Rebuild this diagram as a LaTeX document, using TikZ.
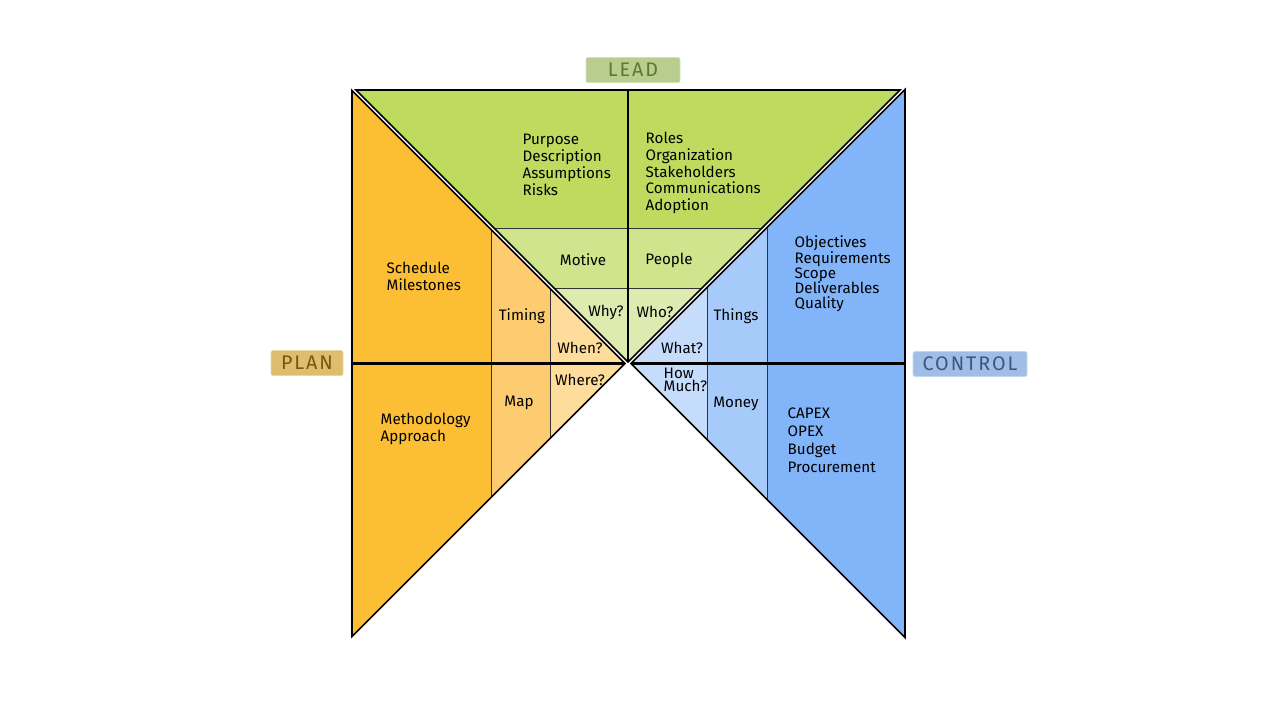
\documentclass[tikz,border=0pt]{standalone}
\usepackage{fontspec}
\setmainfont{Fira Sans}
\newfontfamily\tagfont[LetterSpace=10]{Fira Sans}
\usepackage{tikz}

\definecolor{planA}{HTML}{FBBE35}
\definecolor{planB}{HTML}{FDCC70}
\definecolor{planC}{HTML}{FEDC9C}
\definecolor{leadA}{HTML}{BEDB5F}
\definecolor{leadB}{HTML}{CFE48D}
\definecolor{leadC}{HTML}{DDEBB0}
\definecolor{ctrlA}{HTML}{82B4F9}
\definecolor{ctrlB}{HTML}{A6CAFA}
\definecolor{ctrlC}{HTML}{C5DCFB}
\definecolor{leadTag}{HTML}{B9CD8E}
\definecolor{leadInk}{HTML}{587A30}
\definecolor{planTag}{HTML}{DDBD6E}
\definecolor{planInk}{HTML}{7A5510}
\definecolor{ctrlTag}{HTML}{A0BEE5}
\definecolor{ctrlInk}{HTML}{3B5684}

\begin{document}
\begin{tikzpicture}[
    x=0.025cm, y=-0.025cm,
    edge/.style  = {draw=black, line width=1.1pt, line join=miter},
    band/.style  = {draw=black!80, line width=0.55pt},
    split/.style = {draw=black, line width=1.6pt},
    item/.style  = {font=\fontsize{10.8}{12}\selectfont, text=black},
    block/.style = {item, anchor=west, align=left, inner sep=1pt},
    tag/.style   = {rounded corners=1.5pt, inner sep=0pt, minimum height=18pt,
                    font=\tagfont\fontsize{14}{14}\selectfont},
  ]
  \useasboundingbox (0,0) rectangle (1280,720);
  % plan triangle
  \fill[planA] (352,90.5) -- (491,229.5) -- (491,497.5) -- (352,636.5) -- cycle;
  \fill[planB] (491,229.5) -- (550,288.5) -- (550,438.5) -- (491,497.5) -- cycle;
  \fill[planC] (550,288.5) -- (625,363.5) -- (550,438.5) -- cycle;
  \draw[band] (491,229.5) -- (491,497.5);
  \draw[band] (550,288.5) -- (550,438.5);
  \draw[split] (352,363.5) -- (625,363.5);
  \draw[edge] (352,90.5) -- (625,363.5) -- (352,636.5) -- cycle;
  % lead triangle
  \fill[leadA] (356,90) -- (900,90) -- (762,228) -- (494,228) -- cycle;
  \fill[leadB] (494,228) -- (762,228) -- (702,288) -- (554,288) -- cycle;
  \fill[leadC] (554,288) -- (702,288) -- (628,362) -- cycle;
  \draw[band] (494,228) -- (762,228);
  \draw[band] (554,288) -- (702,288);
  \draw[split] (628,90) -- (628,362);
  \draw[edge] (356,90) -- (900,90) -- (628,362) -- cycle;
  % control triangle
  \fill[ctrlA] (905,89.5) -- (767,227.5) -- (767,499.5) -- (905,637.5) -- cycle;
  \fill[ctrlB] (767,227.5) -- (707,287.5) -- (707,439.5) -- (767,499.5) -- cycle;
  \fill[ctrlC] (707,287.5) -- (631,363.5) -- (707,439.5) -- cycle;
  \draw[band] (767,227.5) -- (767,499.5);
  \draw[band] (707,287.5) -- (707,439.5);
  \draw[split] (631,363.5) -- (905,363.5);
  \draw[edge] (905,89.5) -- (631,363.5) -- (905,637.5) -- cycle;
  % tags
  \node[tag, fill=leadTag, draw=leadTag!60, text=leadInk, minimum width=94*0.025cm] (lead) at (633,70) {LEAD};
  \node[tag, fill=planTag, draw=planTag!60, text=planInk, minimum width=72*0.025cm] (plan) at (307,363) {PLAN};
  \node[tag, fill=ctrlTag, draw=ctrlTag!60, text=ctrlInk, minimum width=114*0.025cm] (control) at (970,364) {CONTROL};
  % outer lists
  \node[block] (purpose)    at (521,165) {Purpose\\Description\\Assumptions\\Risks};
  \node[block] (roles)      at (644,173) {Roles\\Organization\\Stakeholders\\Communications\\Adoption};
  \node[block] (schedule)   at (385,276) {Schedule\\Milestones};
  \node[block] (method)     at (379,429) {Methodology\\Approach};
  \node[block, font=\fontsize{10.8}{10.8}\selectfont] (objectives) at (793,274)
    {Objectives\\Requirements\\Scope\\Deliverables\\Quality};
  \node[block, font=\fontsize{10.8}{12.8}\selectfont] (capex) at (786,440)
    {CAPEX\\OPEX\\Budget\\Procurement};
  % middle bands
  \node[item] (motive) at (583,260) {Motive};
  \node[item] (people) at (669,260) {People};
  \node[item] (timing) at (522,316) {Timing};
  \node[item] (map)    at (519,403) {Map};
  \node[item] (things) at (736,316) {Things};
  \node[item] (money)  at (736,404) {Money};
  % inner questions
  \node[item] (why)   at (606,312) {Why?};
  \node[item] (who)   at (655,312) {Who?};
  \node[item] (when)  at (580,348) {When?};
  \node[item] (where) at (580,380) {Where?};
  \node[item] (what)  at (682,348) {What?};
  \node[block, font=\fontsize{10.8}{9.5}\selectfont] (much) at (662,380) {How\\Much?};
\end{tikzpicture}
\end{document}
